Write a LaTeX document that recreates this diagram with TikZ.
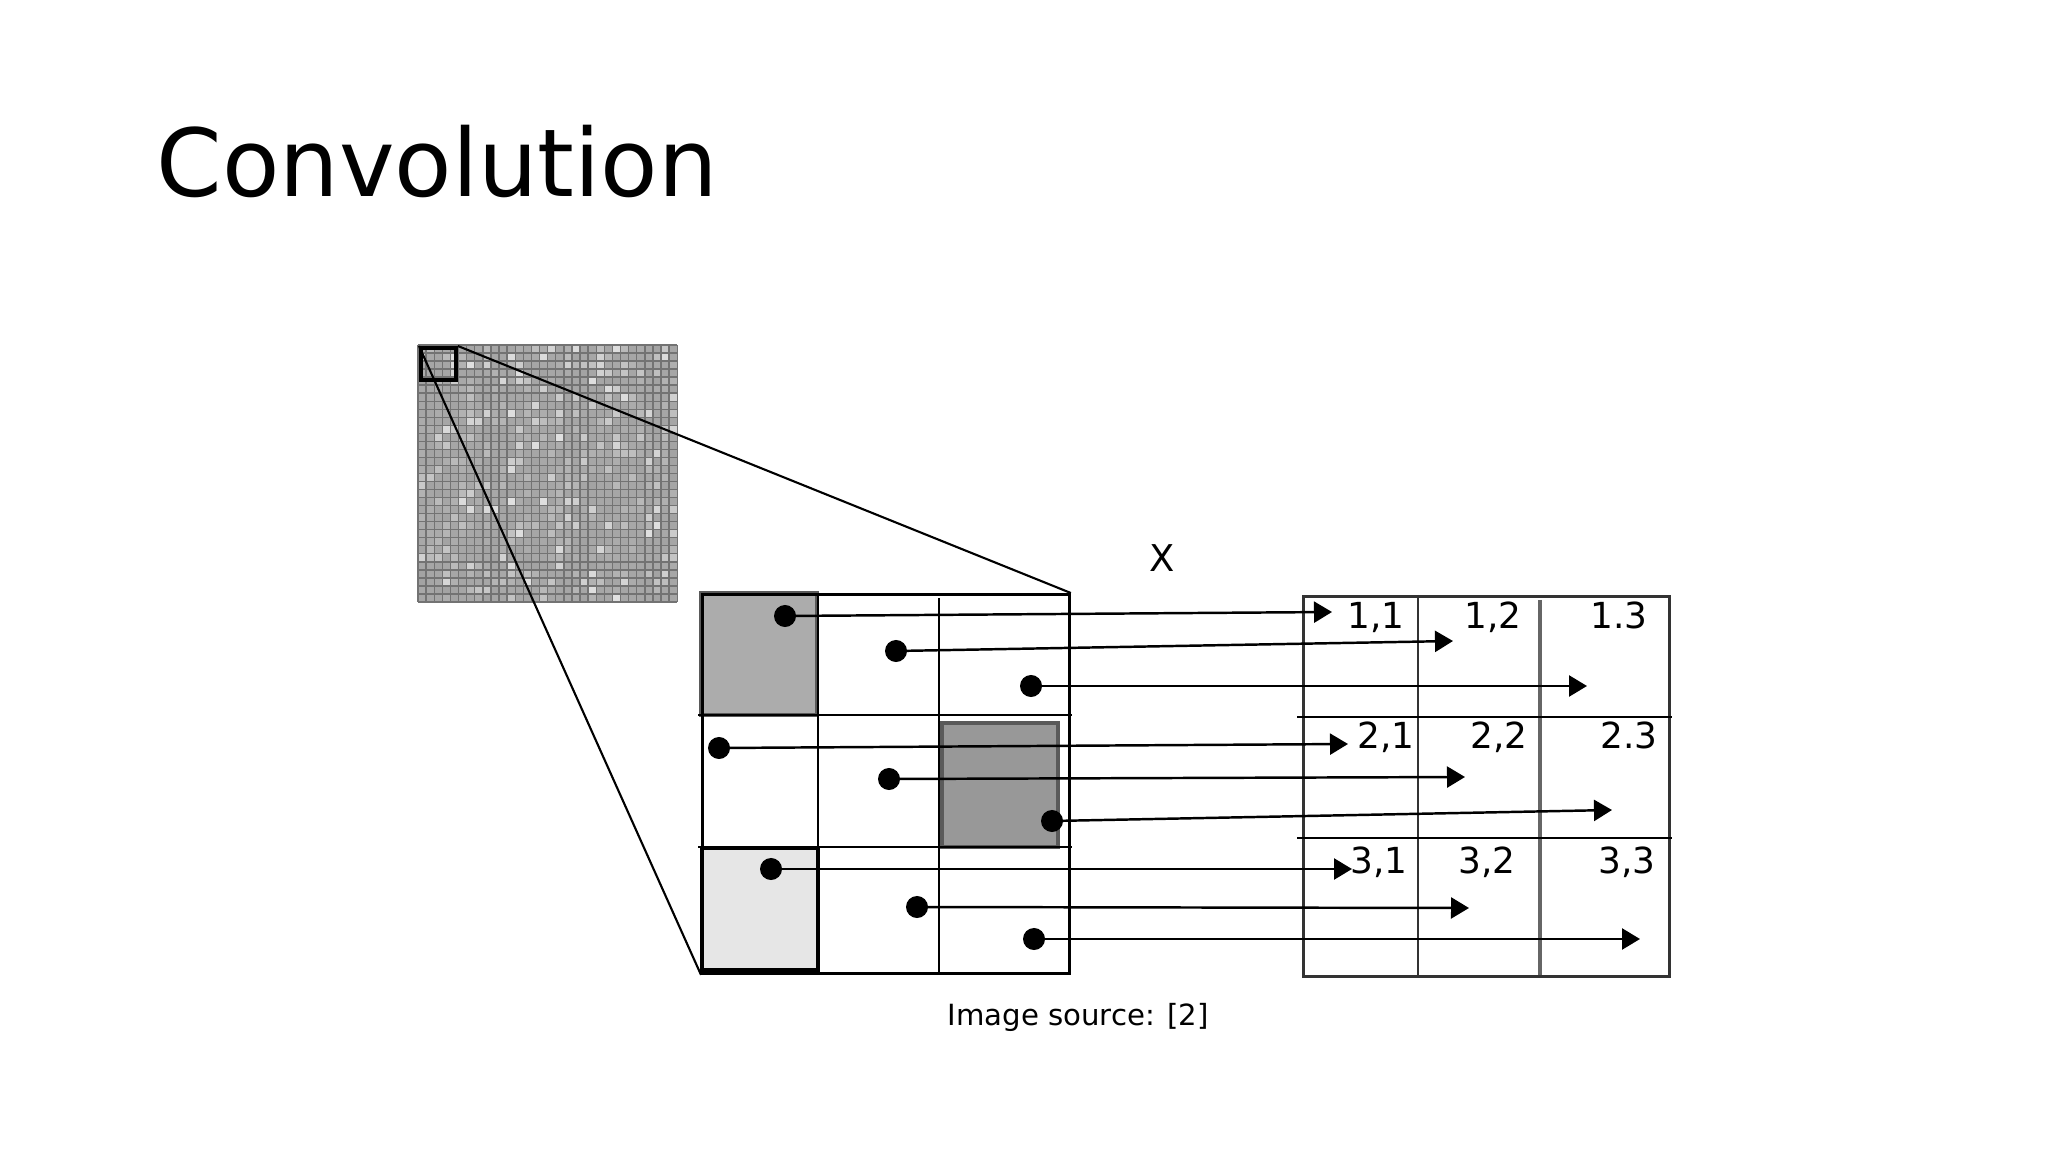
\documentclass[tikz,border=0pt]{standalone}
\usepackage{fontspec}
\setmainfont{DejaVu Sans}
\usetikzlibrary{arrows.meta,positioning}
\definecolor{cvgray}{RGB}{172,172,172}
\definecolor{cvdark}{RGB}{152,152,152}
\definecolor{cvlight}{RGB}{230,230,230}
\definecolor{cvline}{RGB}{90,90,90}

\begin{document}
\begin{tikzpicture}[x=0.01cm,y=-0.01cm,
  dot/.style={circle,fill=black,inner sep=0pt,minimum size=0.22cm},
  lbl/.style={font=\fontsize{10.2}{12}\selectfont,anchor=base east,inner sep=0pt},
  link/.style={-{Triangle[length=0.18cm,width=0.21cm]},line width=0.7pt},
  gridline/.style={line width=0.75pt}]
\useasboundingbox (0,0) rectangle (2048,1152);
% Title
\node[anchor=base west,inner sep=0pt,font=\fontsize{26.7}{32}\selectfont] (title) at (156,197) {Convolution};
% Input image with random pixels
\pgfmathsetseed{11}
\foreach \i in {0,...,31}
  \foreach \j in {0,...,31}{
    \pgfmathsetmacro\tone{int(36-24*rnd^5)}
    \fill[black!\tone] ({418+\i*8.1},{345+\j*8.03}) rectangle +(8.1,8.03);
  }
\foreach \k in {0,...,32}{
  \draw[black!55,line width=0.4pt] ({418+\k*8.1},345) -- ++(0,257);
  \draw[black!55,line width=0.4pt] (418,{345+\k*8.03}) -- ++(259,0);
}
\node[draw,line width=1.1pt,minimum width=0.35cm,minimum height=0.32cm,inner sep=0pt,anchor=north west] (win) at (419,346) {};
% Patch 3x3
\fill[cvgray] (701,593) rectangle (817,715);
\draw[cvline,line width=1pt] (701,593) rectangle (817,715);
\fill[cvdark] (942,723) rectangle (1058,847);
\draw[cvline,line width=1pt] (942,723) rectangle (1058,847);
\fill[cvlight] (702,848) rectangle (818,970);
\draw[line width=1.1pt] (702,848) rectangle (818,970);
\node[draw,gridline,minimum width=3.67cm,minimum height=3.79cm,inner sep=0pt,anchor=north west] (inp) at (701,593) {};
\draw[gridline] (818,593) -- (818,972);
\draw[gridline] (939,598) -- (939,972);
\draw[gridline] (698,715) -- (1072,715);
\draw[gridline] (698,847) -- (1072,847);
% Zoom lines
\draw[line width=0.6pt] (win.north east) -- (inp.north east);
\draw[line width=0.6pt] (win.north west) -- (inp.south west);
\node[font=\fontsize{10.5}{12}\selectfont,inner sep=0pt] (times) at (1162,558) {X};
% Output map
\node[draw,gridline,draw=black!80,minimum width=3.66cm,minimum height=3.80cm,inner sep=0pt,anchor=north west] (out) at (1302,595) {};
\draw[gridline,black!80] (1418,595) -- (1418,975);
\draw[gridline,black!60,line width=1pt] (1540,600) -- (1540,975);
\draw[gridline] (1297,717) -- (1672,717);
\draw[gridline] (1297,838) -- (1672,838);
\node[lbl] (o11) at (1405,628) {1,1};
\node[lbl] (o12) at (1522,628) {1,2};
\node[lbl] (o13) at (1648,628) {1.3};
\node[lbl] (o21) at (1415,748) {2,1};
\node[lbl] (o22) at (1528,748) {2,2};
\node[lbl] (o23) at (1658,748) {2.3};
\node[lbl] (o31) at (1408,873) {3,1};
\node[lbl] (o32) at (1516,873) {3,2};
\node[lbl] (o33) at (1656,873) {3,3};
% Dots and arrows
\foreach \n/\x/\y/\u/\v in {11/785/616/1332/612, 12/896/651/1453/641, 13/1031/686/1587/686,
    21/719/748/1348/744, 22/889/779/1465/777, 23/1052/821/1612/810,
    31/771/869/1352/869, 32/917/907/1469/908, 33/1034/939/1640/939}{
  \node[dot] (d\n) at (\x,\y) {};
  \coordinate (t\n) at (\u,\v);
  \draw[link] (d\n.center) -- (t\n);
}
% Caption
\node[anchor=base west,inner sep=0pt,font=\fontsize{8.3}{10}\selectfont] (src) at (947,1025) {Image source: [2]};
\end{tikzpicture}
\end{document}
